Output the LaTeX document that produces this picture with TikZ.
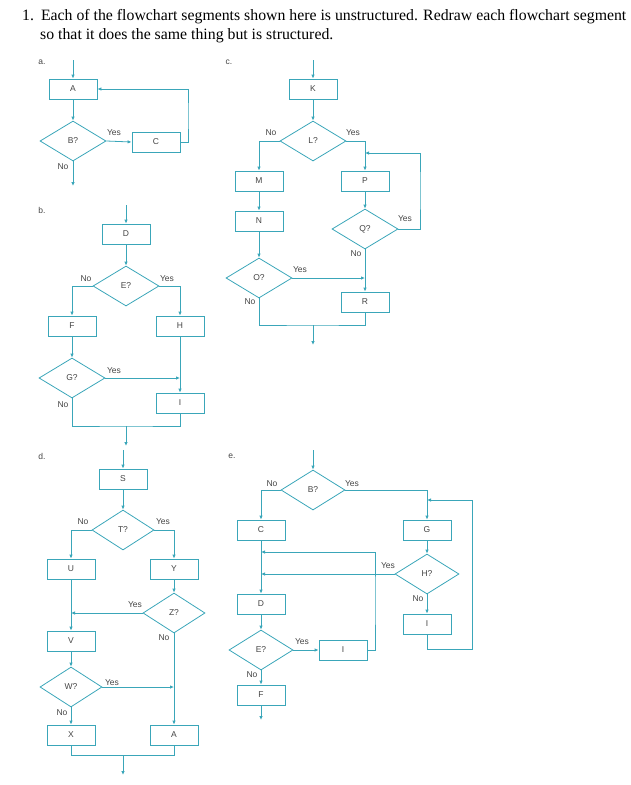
\documentclass[tikz,border=0pt]{standalone}
\usepackage{fontspec}
\setmainfont{Liberation Serif}
\setsansfont{Liberation Sans}
\usetikzlibrary{shapes.geometric,arrows.meta}
\definecolor{fc}{HTML}{3AA6B9}
\definecolor{tc}{HTML}{444444}
\begin{document}
\begin{tikzpicture}[x=1pt,y=-1pt,
  box/.style={draw=fc,line width=0.8pt,minimum width=48pt,minimum height=20pt,inner sep=0,font=\sffamily\fontsize{8.5}{9}\selectfont,text=tc},
  dec/.style={draw=fc,line width=0.8pt,diamond,minimum width=66pt,minimum height=40pt,inner sep=0,font=\sffamily\fontsize{8.5}{9}\selectfont,text=tc},
  lab/.style={font=\sffamily\fontsize{8.5}{9}\selectfont,text=tc,inner sep=0},
  ln/.style={draw=fc,line width=0.8pt},
  ar/.style={draw=fc,line width=0.8pt,-{Latex[length=4pt,width=3.5pt]}}]
\useasboundingbox (0,0) rectangle (630,785);
\node[anchor=base west,inner sep=0,font=\fontsize{15.8}{18}\selectfont] (t1) at (22,20) {1.\hspace{7pt}Each of the flowchart segments shown here is unstructured. Redraw each flowchart segment};
\node[anchor=base west,inner sep=0,font=\fontsize{15.8}{18}\selectfont] (t2) at (40,39) {so that it does the same thing but is structured.};
% a
\node[lab] (la) at (42,62) {a.};
\coordinate (a0) at (73,60);
\node[box] (A) at (73,89) {A};
\node[dec] (B) at (73,141) {B?};
\node[box] (C) at (156,142) {C};
\coordinate (a1) at (73,186);
\draw[ar] (a0) -- (A);
\draw[ar] (A) -- (B);
\draw[ar] (B.east) -- (C.west);
\draw[ar] (C.east) -| (188,116) |- (A.east);
\draw[ar] (B.south) -- (a1);
\node[lab] (ya) at (114,133) {Yes};
\node[lab] (na) at (63,167) {No};
% b
\node[lab] (lb) at (42,210) {b.};
\coordinate (b0) at (126,205);
\node[box] (D) at (126,234) {D};
\node[dec] (E) at (126,286) {E?};
\node[box] (F) at (72,326) {F};
\node[box] (H) at (180,326) {H};
\node[dec] (G) at (72,378) {G?};
\node[box] (I) at (180,403) {I};
\coordinate (bj) at (180,378);
\coordinate (bb) at (126,426);
\coordinate (b1) at (126,446);
\draw[ar] (b0) -- (D);
\draw[ar] (D) -- (E);
\draw[ar] (E.west) -| (F.north);
\draw[ar] (E.east) -| (H.north);
\draw[ar] (F) -- (G);
\draw[ar] (G.east) -- (bj);
\draw[ar] (H.south) -- (I.north);
\draw[ln] (G.south) |- (bb) -| (I.south);
\draw[ar] (bb) -- (b1);
\node[lab] (nb1) at (86,279) {No};
\node[lab] (yb1) at (167,279) {Yes};
\node[lab] (yb2) at (114,371) {Yes};
\node[lab] (nb2) at (63,405) {No};
% c
\node[lab] (lc) at (229,62) {c.};
\coordinate (c0) at (313,60);
\node[box] (K) at (313,89) {K};
\node[dec] (L) at (313,141) {L?};
\node[box] (M) at (259,181) {M};
\node[box] (P) at (365,181) {P};
\node[box] (N) at (259,221) {N};
\node[dec] (Q) at (365,229) {Q?};
\node[dec] (O) at (259,278) {O?};
\node[box] (R) at (365,302) {R};
\coordinate (cj1) at (365,153);
\coordinate (cj2) at (365,278);
\coordinate (cb) at (313,325);
\coordinate (c1) at (313,345);
\draw[ar] (c0) -- (K);
\draw[ar] (K) -- (L);
\draw[ar] (L.west) -| (M.north);
\draw[ln] (L.east) -| (cj1);
\draw[ar] (cj1) -- (P.north);
\draw[ar] (M) -- (N);
\draw[ar] (N) -- (O);
\draw[ar] (P) -- (Q);
\draw[ar] (Q.east) -| (420,190) |- (cj1);
\draw[ar] (Q.south) -- (R.north);
\draw[ar] (O.east) -- (cj2);
\draw[ln] (O.south) |- (cb) -| (R.south);
\draw[ar] (cb) -- (c1);
\node[lab] (nc1) at (271,133) {No};
\node[lab] (yc1) at (353,133) {Yes};
\node[lab] (yc2) at (405,219) {Yes};
\node[lab] (nc2) at (356,254) {No};
\node[lab] (yc3) at (300,270) {Yes};
\node[lab] (nc3) at (250,302) {No};
% d
\node[lab] (ld) at (42,456) {d.};
\coordinate (d0) at (123,450);
\node[box] (S) at (123,479) {S};
\node[dec,minimum width=62pt] (T) at (123,530) {T?};
\node[box] (U) at (71,569) {U};
\node[box] (Y) at (174,569) {Y};
\node[dec,minimum width=62pt] (Z) at (174,613) {Z?};
\node[box] (V) at (71,641) {V};
\node[dec,minimum width=62pt] (W) at (71,687) {W?};
\node[box] (X) at (71,735) {X};
\node[box] (A2) at (174,735) {A};
\coordinate (dj1) at (71,613);
\coordinate (dj2) at (174,687);
\coordinate (db) at (123,755);
\coordinate (d1) at (123,775);
\draw[ar] (d0) -- (S);
\draw[ar] (S) -- (T);
\draw[ar] (T.west) -| (U.north);
\draw[ar] (T.east) -| (Y.north);
\draw[ar] (Y) -- (Z);
\draw[ar] (Z.west) -- (dj1);
\draw[ar] (U) -- (V);
\draw[ar] (V) -- (W);
\draw[ar] (W.east) -- (dj2);
\draw[ar] (W) -- (X);
\draw[ar] (Z.south) -- (A2.north);
\draw[ln] (X.south) |- (db) -| (A2.south);
\draw[ar] (db) -- (d1);
\node[lab] (nd1) at (83,522) {No};
\node[lab] (yd1) at (163,522) {Yes};
\node[lab] (yd2) at (135,605) {Yes};
\node[lab] (nd2) at (164,638) {No};
\node[lab] (yd3) at (112,683) {Yes};
\node[lab] (nd3) at (62,713) {No};
% e
\node[lab] (le) at (232,456) {e.};
\coordinate (e0) at (313,450);
\node[dec,minimum width=64pt] (B2) at (313,490) {B?};
\node[box] (C2) at (261,530) {C};
\node[box] (G2) at (427,530) {G};
\node[dec,minimum width=64pt] (H2) at (427,574) {H?};
\node[box] (I3) at (427,624) {I};
\node[box] (D2) at (261,604) {D};
\node[dec,minimum width=64pt] (E2) at (261,650) {E?};
\node[box] (I2) at (343,650) {I};
\node[box] (F2) at (261,695) {F};
\coordinate (ej0) at (427,500);
\coordinate (ej1) at (261,552);
\coordinate (ej2) at (261,574);
\coordinate (e1) at (261,720);
\draw[ar] (e0) -- (B2);
\draw[ar] (B2.west) -| (C2.north);
\draw[ln] (B2.east) -| (ej0);
\draw[ar] (ej0) -- (G2.north);
\draw[ar] (G2) -- (H2);
\draw[ar] (H2.west) -- (ej2);
\draw[ar] (H2) -- (I3);
\draw[ar] (I3.south) |- (472,649) |- (ej0);
\draw[ar] (C2) -- (D2);
\draw[ar] (D2) -- (E2);
\draw[ar] (E2.east) -- (I2.west);
\draw[ar] (I2.east) -| (375,600) |- (ej1);
\draw[ar] (E2) -- (F2);
\draw[ar] (F2) -- (e1);
\node[lab] (ne1) at (272,484) {No};
\node[lab] (ye1) at (352,484) {Yes};
\node[lab] (ye2) at (388,566) {Yes};
\node[lab] (ne2) at (418,599) {No};
\node[lab] (ye3) at (302,642) {Yes};
\node[lab] (ne3) at (252,675) {No};
\end{tikzpicture}
\end{document}
